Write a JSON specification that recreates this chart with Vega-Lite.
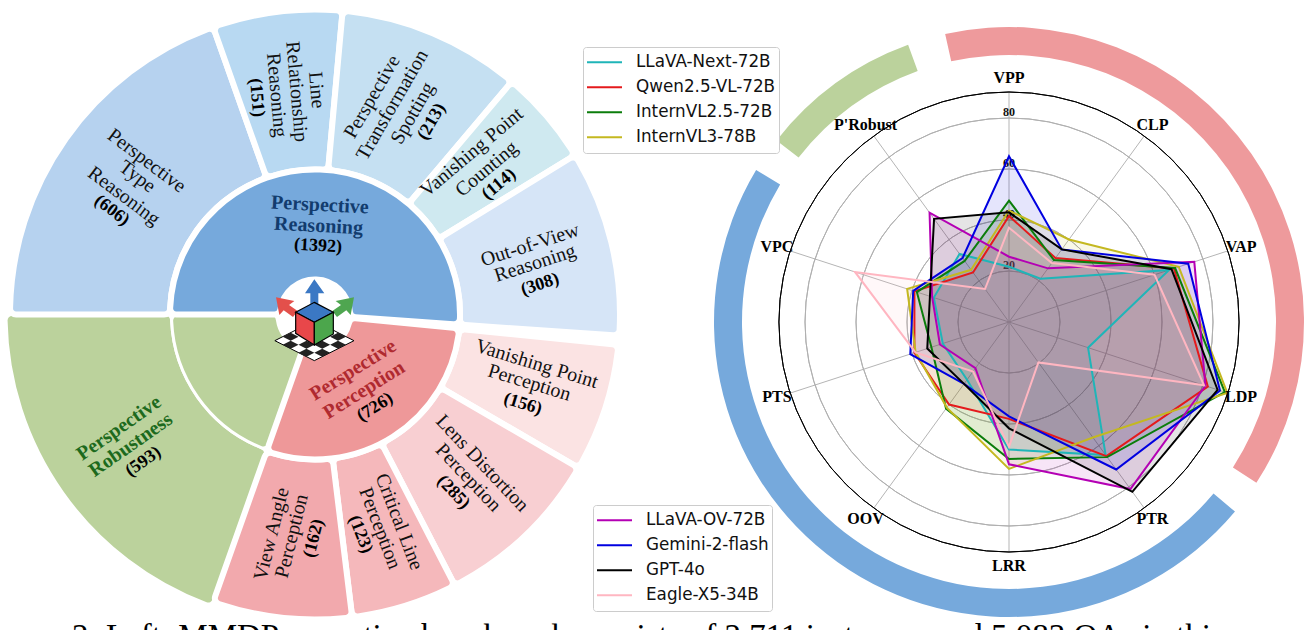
{"$schema":"https://vega.github.io/schema/vega-lite/v6.json","width":1311,"height":630,"autosize":{"type":"none"},"padding":0,"background":"white","config":{"view":{"stroke":null}},
"resolve":{"scale":{"fill":"independent","stroke":"independent"}},
"datasets":{
"green":[{"name":"Robustness outer","a0":199.5,"a1":270,"r0":143.5,"r1":309},{"name":"Robustness inner","a0":199.5,"a1":270,"r0":38,"r1":143.5}],
"sectors":[
{"name":"Perspective Type Reasoning","a0":270,"a1":340.5,"r0":145,"r1":305},
{"name":"Line Relationship Reasoning","a0":340.5,"a1":365.2,"r0":145,"r1":305},
{"name":"Perspective Transformation Spotting","a0":365.2,"a1":400.2,"r0":145,"r1":305},
{"name":"Vanishing Point Counting","a0":400.2,"a1":418.5,"r0":145,"r1":305},
{"name":"Out-of-View Reasoning","a0":418.5,"a1":454,"r0":145,"r1":305},
{"name":"Vanishing Point Perception","a0":95.7,"a1":120.2,"r0":145,"r1":305},
{"name":"Lens Distortion Perception","a0":120.2,"a1":152.7,"r0":145,"r1":305},
{"name":"Critical Line Perception","a0":152.7,"a1":173,"r0":145,"r1":305},
{"name":"View Angle Perception","a0":173,"a1":199.5,"r0":145,"r1":305},
{"name":"Perspective Reasoning","a0":270,"a1":454,"r0":35,"r1":145},
{"name":"Perspective Perception","a0":95.5,"a1":199.5,"r0":35,"r1":145}],
"plain":[
{"t":"Perspective","ang":312.4,"rad":228,"rot":37},{"t":"Type","ang":307.8,"rad":224.9,"rot":37},{"t":"Reasoning","ang":301.8,"rad":224.8,"rot":37},
{"t":"Line","ang":0.4,"rad":224.5,"rot":85},{"t":"Relationship","ang":355.3,"rad":223.6,"rot":85},{"t":"Reasoning","ang":350.1,"rad":222.8,"rot":85},
{"t":"Perspective","ang":14.7,"rad":225.2,"rot":-60},{"t":"Transformation","ang":20.25,"rad":223.3,"rot":-60},{"t":"Spotting","ang":25.9,"rad":223.7,"rot":-60},
{"t":"Vanishing Point","ang":44,"rad":225.5,"rot":-40},{"t":"Counting","ang":49.7,"rad":225,"rot":-40},
{"t":"Out-of-View","ang":72.1,"rad":226,"rot":-18},{"t":"Reasoning","ang":76.9,"rad":225.9,"rot":-18},
{"t":"Vanishing Point","ang":102.6,"rad":227.2,"rot":17},{"t":"Perception","ang":107.65,"rad":224.9,"rot":17},
{"t":"Lens Distortion","ang":131.65,"rad":223.9,"rot":46.5},{"t":"Perception","ang":136.8,"rad":223.9,"rot":46.5},
{"t":"Critical Line","ang":157.9,"rad":223.7,"rot":69},{"t":"Perception","ang":163.1,"rad":223.5,"rot":69},
{"t":"View Angle","ang":191.2,"rad":223.7,"rot":-76},{"t":"Perception","ang":186,"rad":222.7,"rot":-76}],
"counts":[
{"t":"(606)","ang":297.1,"rad":228.3,"rot":37},{"t":"(151)","ang":344.95,"rad":224.5,"rot":85},{"t":"(213)","ang":31.2,"rad":225.4,"rot":-60},{"t":"(114)","ang":54.7,"rad":225.4,"rot":-40},{"t":"(308)","ang":82.4,"rad":227,"rot":-18},{"t":"(156)","ang":113.3,"rad":226.2,"rot":17},{"t":"(285)","ang":142.1,"rad":225.3,"rot":46.5},{"t":"(123)","ang":168.3,"rad":224.5,"rot":69},{"t":"(162)","ang":180.3,"rad":223.8,"rot":-76},{"t":"(593)","ang":229.4,"rad":226.2,"rot":-35},{"t":"(1392)","ang":2.5,"rad":68.6,"rot":3},{"t":"(726)","ang":147.1,"rad":110.5,"rot":-32}],
"groupBlue":[{"t":"Perspective","ang":2.6,"rad":109.6,"rot":3},{"t":"Reasoning","ang":2.3,"rad":88.6,"rot":3}],
"groupRed":[{"t":"Perspective","ang":145.6,"rad":67.3,"rot":-32},{"t":"Perception","ang":147,"rad":90,"rot":-32}],
"groupGreen":[{"t":"Perspective","ang":239.9,"rad":226.6,"rot":-35},{"t":"Robustness","ang":234.7,"rad":225.8,"rot":-35}],
"bands":[{"name":"Perception","a0":-12.5,"a1":123,"r0":267,"r1":295},{"name":"Reasoning","a0":130,"a1":301,"r0":267,"r1":295},{"name":"Robustness","a0":308,"a1":340,"r0":267,"r1":295}],
"axes":[{"axis":"VPP","angle":0},{"axis":"CLP","angle":36},{"axis":"VAP","angle":72},{"axis":"LDP","angle":108},{"axis":"PTR","angle":144},{"axis":"LRR","angle":180},{"axis":"OOV","angle":216},{"axis":"PTS","angle":252},{"axis":"VPC","angle":288},{"axis":"P'Robust","angle":324}],
"spokes":[{"axis":"VPP","angle":0,"value":0},{"axis":"VPP","angle":0,"value":90},{"axis":"CLP","angle":36,"value":0},{"axis":"CLP","angle":36,"value":90},{"axis":"VAP","angle":72,"value":0},{"axis":"VAP","angle":72,"value":90},{"axis":"LDP","angle":108,"value":0},{"axis":"LDP","angle":108,"value":90},{"axis":"PTR","angle":144,"value":0},{"axis":"PTR","angle":144,"value":90},{"axis":"LRR","angle":180,"value":0},{"axis":"LRR","angle":180,"value":90},{"axis":"OOV","angle":216,"value":0},{"axis":"OOV","angle":216,"value":90},{"axis":"PTS","angle":252,"value":0},{"axis":"PTS","angle":252,"value":90},{"axis":"VPC","angle":288,"value":0},{"axis":"VPC","angle":288,"value":90},{"axis":"P'Robust","angle":324,"value":0},{"axis":"P'Robust","angle":324,"value":90}],
"ticks":[{"v":20},{"v":40},{"v":60},{"v":80}],
"radarA":[
{"model":"LLaVA-Next-72B","angle":0,"value":21.7},{"model":"LLaVA-Next-72B","angle":36,"value":21},{"model":"LLaVA-Next-72B","angle":72,"value":66},{"model":"LLaVA-Next-72B","angle":108,"value":32.6},{"model":"LLaVA-Next-72B","angle":144,"value":64.5},{"model":"LLaVA-Next-72B","angle":180,"value":50},{"model":"LLaVA-Next-72B","angle":216,"value":28},{"model":"LLaVA-Next-72B","angle":252,"value":27.3},{"model":"LLaVA-Next-72B","angle":288,"value":31},{"model":"LLaVA-Next-72B","angle":324,"value":33},
{"model":"Qwen2.5-VL-72B","angle":0,"value":41.6},{"model":"Qwen2.5-VL-72B","angle":36,"value":31},{"model":"Qwen2.5-VL-72B","angle":72,"value":68},{"model":"Qwen2.5-VL-72B","angle":108,"value":82},{"model":"Qwen2.5-VL-72B","angle":144,"value":65},{"model":"Qwen2.5-VL-72B","angle":180,"value":38},{"model":"Qwen2.5-VL-72B","angle":216,"value":40},{"model":"Qwen2.5-VL-72B","angle":252,"value":39},{"model":"Qwen2.5-VL-72B","angle":288,"value":39},{"model":"Qwen2.5-VL-72B","angle":324,"value":24},
{"model":"InternVL2.5-72B","angle":0,"value":47.6},{"model":"InternVL2.5-72B","angle":36,"value":30},{"model":"InternVL2.5-72B","angle":72,"value":68.5},{"model":"InternVL2.5-72B","angle":108,"value":89},{"model":"InternVL2.5-72B","angle":144,"value":65.5},{"model":"InternVL2.5-72B","angle":180,"value":53.7},{"model":"InternVL2.5-72B","angle":216,"value":42},{"model":"InternVL2.5-72B","angle":252,"value":32},{"model":"InternVL2.5-72B","angle":288,"value":38},{"model":"InternVL2.5-72B","angle":324,"value":29.6},
{"model":"InternVL3-78B","angle":0,"value":43.7},{"model":"InternVL3-78B","angle":36,"value":40},{"model":"InternVL3-78B","angle":72,"value":70},{"model":"InternVL3-78B","angle":108,"value":90},{"model":"InternVL3-78B","angle":144,"value":56},{"model":"InternVL3-78B","angle":180,"value":57.6},{"model":"InternVL3-78B","angle":216,"value":41.5},{"model":"InternVL3-78B","angle":252,"value":38.5},{"model":"InternVL3-78B","angle":288,"value":42},{"model":"InternVL3-78B","angle":324,"value":25.3}],
"radarB":[
{"model":"LLaVA-OV-72B","angle":0,"value":25.6},{"model":"LLaVA-OV-72B","angle":36,"value":26},{"model":"LLaVA-OV-72B","angle":72,"value":76.4},{"model":"LLaVA-OV-72B","angle":108,"value":81},{"model":"LLaVA-OV-72B","angle":144,"value":81},{"model":"LLaVA-OV-72B","angle":180,"value":55.8},{"model":"LLaVA-OV-72B","angle":216,"value":22.4},{"model":"LLaVA-OV-72B","angle":252,"value":28.5},{"model":"LLaVA-OV-72B","angle":288,"value":31.7},{"model":"LLaVA-OV-72B","angle":324,"value":53},
{"model":"Gemini-2-flash","angle":0,"value":65},{"model":"Gemini-2-flash","angle":36,"value":35.2},{"model":"Gemini-2-flash","angle":72,"value":73.9},{"model":"Gemini-2-flash","angle":108,"value":87},{"model":"Gemini-2-flash","angle":144,"value":71.5},{"model":"Gemini-2-flash","angle":180,"value":37},{"model":"Gemini-2-flash","angle":216,"value":30},{"model":"Gemini-2-flash","angle":252,"value":40.7},{"model":"Gemini-2-flash","angle":288,"value":39.5},{"model":"Gemini-2-flash","angle":324,"value":31},
{"model":"GPT-4o","angle":0,"value":43},{"model":"GPT-4o","angle":36,"value":35.2},{"model":"GPT-4o","angle":72,"value":67},{"model":"GPT-4o","angle":108,"value":86},{"model":"GPT-4o","angle":144,"value":82.3},{"model":"GPT-4o","angle":180,"value":41.7},{"model":"GPT-4o","angle":216,"value":30},{"model":"GPT-4o","angle":252,"value":33.7},{"model":"GPT-4o","angle":288,"value":32.6},{"model":"GPT-4o","angle":324,"value":50},
{"model":"Eagle-X5-34B","angle":0,"value":37},{"model":"Eagle-X5-34B","angle":36,"value":28.6},{"model":"Eagle-X5-34B","angle":72,"value":60},{"model":"Eagle-X5-34B","angle":108,"value":80.4},{"model":"Eagle-X5-34B","angle":144,"value":19.6},{"model":"Eagle-X5-34B","angle":180,"value":49},{"model":"Eagle-X5-34B","angle":216,"value":24},{"model":"Eagle-X5-34B","angle":252,"value":38.6},{"model":"Eagle-X5-34B","angle":288,"value":63.5},{"model":"Eagle-X5-34B","angle":324,"value":16}],
"one":[{"k":1}],
"caption":[{"t":"2: Left: MMDPerspective benchmark consists of 2,711 instances and 5,083 QAs in this"}]
},
"layer":[
{"data":{"name":"green"},"mark":{"type":"arc","stroke":"white","strokeWidth":3,"cornerRadius":6,"fill":"#bbd29c"},"encoding":{"x":{"datum":315,"type":"quantitative","scale":{"domain":[0,1311],"range":[0,1311],"nice":false},"axis":null},"y":{"datum":314.5,"type":"quantitative","scale":{"domain":[0,630],"range":[0,630],"nice":false},"axis":null},"theta":{"field":"a0","type":"quantitative","scale":{"domain":[0,360],"range":[0,6.283185]}},"theta2":{"field":"a1"},"radius":{"field":"r1","type":"quantitative","scale":{"type":"linear","domain":[0,320],"range":[0,320]}},"radius2":{"field":"r0"}}},
{"data":{"name":"sectors"},"mark":{"type":"arc","stroke":"white","strokeWidth":6,"cornerRadius":6},"encoding":{"x":{"datum":315,"type":"quantitative","scale":{"domain":[0,1311],"range":[0,1311],"nice":false},"axis":null},"y":{"datum":314.5,"type":"quantitative","scale":{"domain":[0,630],"range":[0,630],"nice":false},"axis":null},"theta":{"field":"a0","type":"quantitative","scale":{"domain":[0,360],"range":[0,6.283185]}},"theta2":{"field":"a1"},"radius":{"field":"r1","type":"quantitative","scale":{"type":"linear","domain":[0,320],"range":[0,320]}},"radius2":{"field":"r0"},"fill":{"field":"name","type":"nominal","legend":null,"scale":{"domain":["Perspective Type Reasoning","Line Relationship Reasoning","Perspective Transformation Spotting","Vanishing Point Counting","Out-of-View Reasoning","Vanishing Point Perception","Lens Distortion Perception","Critical Line Perception","View Angle Perception","Perspective Reasoning","Perspective Perception"],"range":["#b6d2ef","#b8d9f2","#c5e0f2","#cfe9f0","#d6e5f7","#fbe3e3","#f8cfd2","#f5b8bb","#f2a9ad","#76a9dc","#ee9899"]}}}},
{"data":{"name":"plain"},"mark":{"type":"text","font":"Liberation Serif","fontSize":20,"color":"#111","align":"center","baseline":"middle"},"encoding":{"x":{"datum":315,"type":"quantitative","scale":{"domain":[0,1311],"range":[0,1311],"nice":false},"axis":null},"y":{"datum":314.5,"type":"quantitative","scale":{"domain":[0,630],"range":[0,630],"nice":false},"axis":null},"theta":{"field":"ang","type":"quantitative","scale":{"domain":[0,360],"range":[0,6.283185]}},"radius":{"field":"rad","type":"quantitative","scale":{"type":"linear","domain":[0,320],"range":[0,320]}},"angle":{"field":"rot","type":"quantitative","scale":null},"text":{"field":"t","type":"nominal"}}},
{"data":{"name":"counts"},"mark":{"type":"text","font":"Liberation Serif","fontSize":18,"fontWeight":"bold","color":"#000","align":"center","baseline":"middle"},"encoding":{"x":{"datum":315,"type":"quantitative","scale":{"domain":[0,1311],"range":[0,1311],"nice":false},"axis":null},"y":{"datum":314.5,"type":"quantitative","scale":{"domain":[0,630],"range":[0,630],"nice":false},"axis":null},"theta":{"field":"ang","type":"quantitative","scale":{"domain":[0,360],"range":[0,6.283185]}},"radius":{"field":"rad","type":"quantitative","scale":{"type":"linear","domain":[0,320],"range":[0,320]}},"angle":{"field":"rot","type":"quantitative","scale":null},"text":{"field":"t","type":"nominal"}}},
{"data":{"name":"groupBlue"},"mark":{"type":"text","font":"Liberation Serif","fontSize":20,"fontWeight":"bold","color":"#123c6e","align":"center","baseline":"middle"},"encoding":{"x":{"datum":315,"type":"quantitative","scale":{"domain":[0,1311],"range":[0,1311],"nice":false},"axis":null},"y":{"datum":314.5,"type":"quantitative","scale":{"domain":[0,630],"range":[0,630],"nice":false},"axis":null},"theta":{"field":"ang","type":"quantitative","scale":{"domain":[0,360],"range":[0,6.283185]}},"radius":{"field":"rad","type":"quantitative","scale":{"type":"linear","domain":[0,320],"range":[0,320]}},"angle":{"field":"rot","type":"quantitative","scale":null},"text":{"field":"t","type":"nominal"}}},
{"data":{"name":"groupRed"},"mark":{"type":"text","font":"Liberation Serif","fontSize":20,"fontWeight":"bold","color":"#b02a30","align":"center","baseline":"middle"},"encoding":{"x":{"datum":315,"type":"quantitative","scale":{"domain":[0,1311],"range":[0,1311],"nice":false},"axis":null},"y":{"datum":314.5,"type":"quantitative","scale":{"domain":[0,630],"range":[0,630],"nice":false},"axis":null},"theta":{"field":"ang","type":"quantitative","scale":{"domain":[0,360],"range":[0,6.283185]}},"radius":{"field":"rad","type":"quantitative","scale":{"type":"linear","domain":[0,320],"range":[0,320]}},"angle":{"field":"rot","type":"quantitative","scale":null},"text":{"field":"t","type":"nominal"}}},
{"data":{"name":"groupGreen"},"mark":{"type":"text","font":"Liberation Serif","fontSize":20,"fontWeight":"bold","color":"#1d6a1d","align":"center","baseline":"middle"},"encoding":{"x":{"datum":315,"type":"quantitative","scale":{"domain":[0,1311],"range":[0,1311],"nice":false},"axis":null},"y":{"datum":314.5,"type":"quantitative","scale":{"domain":[0,630],"range":[0,630],"nice":false},"axis":null},"theta":{"field":"ang","type":"quantitative","scale":{"domain":[0,360],"range":[0,6.283185]}},"radius":{"field":"rad","type":"quantitative","scale":{"type":"linear","domain":[0,320],"range":[0,320]}},"angle":{"field":"rot","type":"quantitative","scale":null},"text":{"field":"t","type":"nominal"}}},
{"data":{"name":"one"},"mark":{"type":"point","filled":true,"size":0.444,"opacity":1,"fill":"white","stroke":"black","strokeWidth":1,"shape":"M-2,-13L117,47L-2,107L-120.5,47Z"},"encoding":{"x":{"datum":315,"type":"quantitative","scale":{"domain":[0,1311],"range":[0,1311],"nice":false},"axis":null},"y":{"datum":325,"type":"quantitative","scale":{"domain":[0,630],"range":[0,630],"nice":false},"axis":null}}},
{"data":{"name":"one"},"mark":{"type":"point","filled":true,"size":0.444,"opacity":1,"fill":"#222222","shape":"M-73,47L-49.4,59L-73,71L-96.8,59ZM-25.7,47L-2,59L-25.7,71L-49.4,59ZM21.7,47L45.4,59L21.7,71L-2,59ZM69,47L93,59L69,71L45.4,59ZM-25.7,71L-2,83L-25.7,95L-49.4,83ZM21.7,71L45.4,83L21.7,95L-2,83ZM-73,23L-49.4,35L-73,47L-96.8,35ZM69,23L93,35L69,47L45.4,35Z"},"encoding":{"x":{"datum":315,"type":"quantitative","scale":{"domain":[0,1311],"range":[0,1311],"nice":false},"axis":null},"y":{"datum":325,"type":"quantitative","scale":{"domain":[0,630],"range":[0,630],"nice":false},"axis":null}}},
{"data":{"name":"one"},"mark":{"type":"point","filled":true,"size":0.444,"opacity":1,"fill":"#3b78c4","shape":"M-2,-137L28,-95L10,-95L10,-60L-14,-60L-14,-95L-30,-95Z"},"encoding":{"x":{"datum":315,"type":"quantitative","scale":{"domain":[0,1311],"range":[0,1311],"nice":false},"axis":null},"y":{"datum":325,"type":"quantitative","scale":{"domain":[0,630],"range":[0,630],"nice":false},"axis":null}}},
{"data":{"name":"one"},"mark":{"type":"point","filled":true,"size":0.444,"opacity":1,"fill":"#e3504b","shape":"M-117,-83L-62,-72L-78,-60L-52,-42L-66,-24L-94,-44L-107,-30Z"},"encoding":{"x":{"datum":315,"type":"quantitative","scale":{"domain":[0,1311],"range":[0,1311],"nice":false},"axis":null},"y":{"datum":325,"type":"quantitative","scale":{"domain":[0,630],"range":[0,630],"nice":false},"axis":null}}},
{"data":{"name":"one"},"mark":{"type":"point","filled":true,"size":0.444,"opacity":1,"fill":"#4fa650","shape":"M117,-83L62,-72L78,-60L52,-42L66,-24L94,-44L107,-30Z"},"encoding":{"x":{"datum":315,"type":"quantitative","scale":{"domain":[0,1311],"range":[0,1311],"nice":false},"axis":null},"y":{"datum":325,"type":"quantitative","scale":{"domain":[0,630],"range":[0,630],"nice":false},"axis":null}}},
{"data":{"name":"one"},"mark":{"type":"point","filled":true,"size":0.444,"opacity":1,"fill":"#3b78c4","stroke":"black","strokeWidth":1.2,"shape":"M-2,-68L55,-38L-2,-8L-58,-38Z"},"encoding":{"x":{"datum":315,"type":"quantitative","scale":{"domain":[0,1311],"range":[0,1311],"nice":false},"axis":null},"y":{"datum":325,"type":"quantitative","scale":{"domain":[0,630],"range":[0,630],"nice":false},"axis":null}}},
{"data":{"name":"one"},"mark":{"type":"point","filled":true,"size":0.444,"opacity":1,"fill":"#e8474a","stroke":"black","strokeWidth":1.2,"shape":"M-58,-38L-2,-8L-2,60L-58,25Z"},"encoding":{"x":{"datum":315,"type":"quantitative","scale":{"domain":[0,1311],"range":[0,1311],"nice":false},"axis":null},"y":{"datum":325,"type":"quantitative","scale":{"domain":[0,630],"range":[0,630],"nice":false},"axis":null}}},
{"data":{"name":"one"},"mark":{"type":"point","filled":true,"size":0.444,"opacity":1,"fill":"#4ca64c","stroke":"black","strokeWidth":1.2,"shape":"M-2,-8L55,-38L55,27L-2,60Z"},"encoding":{"x":{"datum":315,"type":"quantitative","scale":{"domain":[0,1311],"range":[0,1311],"nice":false},"axis":null},"y":{"datum":325,"type":"quantitative","scale":{"domain":[0,630],"range":[0,630],"nice":false},"axis":null}}},
{"data":{"name":"bands"},"mark":{"type":"arc"},"encoding":{"x":{"datum":1009,"type":"quantitative","scale":{"domain":[0,1311],"range":[0,1311],"nice":false},"axis":null},"y":{"datum":322,"type":"quantitative","scale":{"domain":[0,630],"range":[0,630],"nice":false},"axis":null},"theta":{"field":"a0","type":"quantitative","scale":{"domain":[0,360],"range":[0,6.283185]}},"theta2":{"field":"a1"},"radius":{"field":"r1","type":"quantitative","scale":{"type":"linear","domain":[0,320],"range":[0,320]}},"radius2":{"field":"r0"},"fill":{"field":"name","type":"nominal","legend":null,"scale":{"domain":["Perception","Reasoning","Robustness"],"range":["#ee9a9c","#76a9dc","#bbd29c"]}}}},
{"data":{"name":"spokes"},"transform":[{"calculate":"1009+2.55*datum.value*sin(datum.angle*PI/180)","as":"px"},{"calculate":"322-2.55*datum.value*cos(datum.angle*PI/180)","as":"py"}],"mark":{"type":"line","color":"#b5b5b5","strokeWidth":1},"encoding":{"x":{"field":"px","type":"quantitative","scale":{"domain":[0,1311],"range":[0,1311],"nice":false},"axis":null},"y":{"field":"py","type":"quantitative","scale":{"domain":[0,630],"range":[0,630],"nice":false},"axis":null},"detail":{"field":"axis"},"order":{"field":"value"}}},
{"data":{"name":"ticks"},"transform":[{"calculate":"datum.v*2.55","as":"r"},{"calculate":"0","as":"a0"},{"calculate":"360","as":"a1"}],"mark":{"type":"arc","fillOpacity":0,"stroke":"#b0b0b0","strokeWidth":1},"encoding":{"x":{"datum":1009,"type":"quantitative","scale":{"domain":[0,1311],"range":[0,1311],"nice":false},"axis":null},"y":{"datum":322,"type":"quantitative","scale":{"domain":[0,630],"range":[0,630],"nice":false},"axis":null},"theta":{"field":"a0","type":"quantitative","scale":{"domain":[0,360],"range":[0,6.283185]}},"theta2":{"field":"a1"},"radius":{"field":"r","type":"quantitative","scale":{"type":"linear","domain":[0,320],"range":[0,320]}},"radius2":{"field":"r"}}},
{"data":{"values":[{"r":230,"a0":0,"a1":360}]},"mark":{"type":"arc","fillOpacity":0,"stroke":"#000","strokeWidth":1},"encoding":{"x":{"datum":1009,"type":"quantitative","scale":{"domain":[0,1311],"range":[0,1311],"nice":false},"axis":null},"y":{"datum":322,"type":"quantitative","scale":{"domain":[0,630],"range":[0,630],"nice":false},"axis":null},"theta":{"field":"a0","type":"quantitative","scale":{"domain":[0,360],"range":[0,6.283185]}},"theta2":{"field":"a1"},"radius":{"field":"r","type":"quantitative","scale":{"type":"linear","domain":[0,320],"range":[0,320]}},"radius2":{"field":"r"}}},
{"data":{"name":"ticks"},"transform":[{"calculate":"datum.v*2.55+6","as":"r"},{"calculate":"0","as":"a0"}],"mark":{"type":"text","font":"Liberation Serif","fontSize":12,"fontWeight":"bold","color":"#111","align":"center","baseline":"middle"},"encoding":{"x":{"datum":1009,"type":"quantitative","scale":{"domain":[0,1311],"range":[0,1311],"nice":false},"axis":null},"y":{"datum":322,"type":"quantitative","scale":{"domain":[0,630],"range":[0,630],"nice":false},"axis":null},"theta":{"field":"a0","type":"quantitative","scale":{"domain":[0,360],"range":[0,6.283185]}},"radius":{"field":"r","type":"quantitative","scale":{"type":"linear","domain":[0,320],"range":[0,320]}},"text":{"field":"v","type":"nominal"}}},
{"data":{"name":"radarA"},"transform":[{"calculate":"1009+2.55*datum.value*sin(datum.angle*PI/180)","as":"px"},{"calculate":"322-2.55*datum.value*cos(datum.angle*PI/180)","as":"py"}],"mark":{"type":"line","interpolate":"linear-closed","stroke":null,"fillOpacity":0.1},"encoding":{"x":{"field":"px","type":"quantitative","scale":{"domain":[0,1311],"range":[0,1311],"nice":false},"axis":null},"y":{"field":"py","type":"quantitative","scale":{"domain":[0,630],"range":[0,630],"nice":false},"axis":null},"order":{"field":"angle"},"fill":{"field":"model","type":"nominal","legend":null,"scale":{"domain":["LLaVA-Next-72B","Qwen2.5-VL-72B","InternVL2.5-72B","InternVL3-78B"],"range":["#1fb5b8","#e41a1c","#0b7d0b","#c4b820"]}}}},
{"data":{"name":"radarB"},"transform":[{"calculate":"1009+2.55*datum.value*sin(datum.angle*PI/180)","as":"px"},{"calculate":"322-2.55*datum.value*cos(datum.angle*PI/180)","as":"py"}],"mark":{"type":"line","interpolate":"linear-closed","stroke":null,"fillOpacity":0.1},"encoding":{"x":{"field":"px","type":"quantitative","scale":{"domain":[0,1311],"range":[0,1311],"nice":false},"axis":null},"y":{"field":"py","type":"quantitative","scale":{"domain":[0,630],"range":[0,630],"nice":false},"axis":null},"order":{"field":"angle"},"fill":{"field":"model","type":"nominal","legend":null,"scale":{"domain":["LLaVA-OV-72B","Gemini-2-flash","GPT-4o","Eagle-X5-34B"],"range":["#b400b4","#0000e0","#000000","#ffb6c1"]}}}},
{"data":{"name":"radarA"},"transform":[{"calculate":"1009+2.55*datum.value*sin(datum.angle*PI/180)","as":"px"},{"calculate":"322-2.55*datum.value*cos(datum.angle*PI/180)","as":"py"}],"mark":{"type":"line","interpolate":"linear-closed","strokeWidth":2},"encoding":{"x":{"field":"px","type":"quantitative","scale":{"domain":[0,1311],"range":[0,1311],"nice":false},"axis":null},"y":{"field":"py","type":"quantitative","scale":{"domain":[0,630],"range":[0,630],"nice":false},"axis":null},"order":{"field":"angle"},"stroke":{"field":"model","type":"nominal","scale":{"domain":["LLaVA-Next-72B","Qwen2.5-VL-72B","InternVL2.5-72B","InternVL3-78B"],"range":["#1fb5b8","#e41a1c","#0b7d0b","#c4b820"]},"legend":{"orient":"none","legendX":583,"legendY":47,"title":null,"symbolType":"stroke","symbolSize":1225,"symbolStrokeWidth":2,"symbolOpacity":1,"clipHeight":24.3,"rowPadding":0,"labelFont":"DejaVu Sans","labelFontSize":16.8,"labelOffset":13,"labelColor":"#111","fillColor":"white","strokeColor":"#cccccc","cornerRadius":3,"padding":3}}}},
{"data":{"name":"radarB"},"transform":[{"calculate":"1009+2.55*datum.value*sin(datum.angle*PI/180)","as":"px"},{"calculate":"322-2.55*datum.value*cos(datum.angle*PI/180)","as":"py"}],"mark":{"type":"line","interpolate":"linear-closed","strokeWidth":2},"encoding":{"x":{"field":"px","type":"quantitative","scale":{"domain":[0,1311],"range":[0,1311],"nice":false},"axis":null},"y":{"field":"py","type":"quantitative","scale":{"domain":[0,630],"range":[0,630],"nice":false},"axis":null},"order":{"field":"angle"},"stroke":{"field":"model","type":"nominal","scale":{"domain":["LLaVA-OV-72B","Gemini-2-flash","GPT-4o","Eagle-X5-34B"],"range":["#b400b4","#0000e0","#000000","#ffb6c1"]},"legend":{"orient":"none","legendX":593,"legendY":505,"title":null,"symbolType":"stroke","symbolSize":1225,"symbolStrokeWidth":2,"symbolOpacity":1,"clipHeight":24.3,"rowPadding":0,"labelFont":"DejaVu Sans","labelFontSize":16.8,"labelOffset":13,"labelColor":"#111","fillColor":"white","strokeColor":"#cccccc","cornerRadius":3,"padding":3}}}},
{"data":{"name":"axes"},"transform":[{"calculate":"244","as":"r"}],"mark":{"type":"text","font":"Liberation Serif","fontSize":16,"fontWeight":"bold","color":"#000","align":"center","baseline":"middle"},"encoding":{"x":{"datum":1009,"type":"quantitative","scale":{"domain":[0,1311],"range":[0,1311],"nice":false},"axis":null},"y":{"datum":322,"type":"quantitative","scale":{"domain":[0,630],"range":[0,630],"nice":false},"axis":null},"theta":{"field":"angle","type":"quantitative","scale":{"domain":[0,360],"range":[0,6.283185]}},"radius":{"field":"r","type":"quantitative","scale":{"type":"linear","domain":[0,320],"range":[0,320]}},"text":{"field":"axis","type":"nominal"}}},
{"data":{"name":"caption"},"mark":{"type":"text","font":"Liberation Serif","fontSize":33,"color":"#000","align":"left","baseline":"alphabetic"},"encoding":{"x":{"datum":72,"type":"quantitative","scale":{"domain":[0,1311],"range":[0,1311],"nice":false},"axis":null},"y":{"datum":647,"type":"quantitative","scale":{"domain":[0,630],"range":[0,630],"nice":false},"axis":null},"text":{"field":"t","type":"nominal"}}}
]}
